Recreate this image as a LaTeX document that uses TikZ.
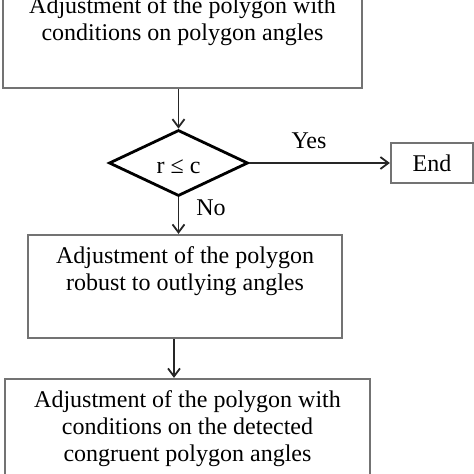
\documentclass[tikz,border=0pt]{standalone}
\usepackage{fontspec}
\setmainfont{Liberation Serif}
\usetikzlibrary{shapes.geometric,arrows.meta}
\begin{document}
\begin{tikzpicture}[x=1pt,y=-1pt,
  box/.style={draw=black!55,line width=2.2pt,rectangle,align=center,inner sep=0pt,
    font=\fontsize{24}{27}\selectfont},
  decision/.style={draw=black,line width=2.8pt,diamond,inner sep=0pt,
    minimum width=139pt,minimum height=66pt,font=\fontsize{24}{27}\selectfont},
  lab/.style={inner sep=0pt,font=\fontsize{24}{27}\selectfont},
  flow/.style={draw=black!85,line width=1.8pt,-{Straight Barb[length=8pt,width=12pt,line width=1.8pt]}}]
\useasboundingbox (0,0) rectangle (474,474);
\clip (0,0) rectangle (474,474);
\node[box,minimum width=359pt,minimum height=103pt] (b1) at (182.5,36.5)
  {Adjustment of the polygon with\\conditions on polygon angles\\\strut};
\node[decision,text height=21pt,text depth=0pt] (d) at (178.5,163) {r ≤ c};
\node[box,minimum width=82pt,minimum height=40pt] (e) at (432,163) {End};
\node[box,minimum width=314pt,minimum height=103pt] (b2) at (185,286.5)
  {Adjustment of the polygon\\robust to outlying angles\\\strut};
\node[box,minimum width=365pt,minimum height=130pt] (b3) at (187.5,444)
  {Adjustment of the polygon with\\conditions on the detected\\congruent polygon angles\\\strut};
\node[lab] (yes) at (309,141) {Yes};
\node[lab] (no) at (211,208) {No};
\draw[flow] (b1.south -| d.north) -- (d.north);
\draw[flow] (d.east) -- (e.west);
\draw[flow] (d.south) -- (d.south |- b2.north);
\draw[flow] ([xshift=-11pt]b2.south) -- ([xshift=-11pt]b2.south |- b3.north);
\end{tikzpicture}
\end{document}
